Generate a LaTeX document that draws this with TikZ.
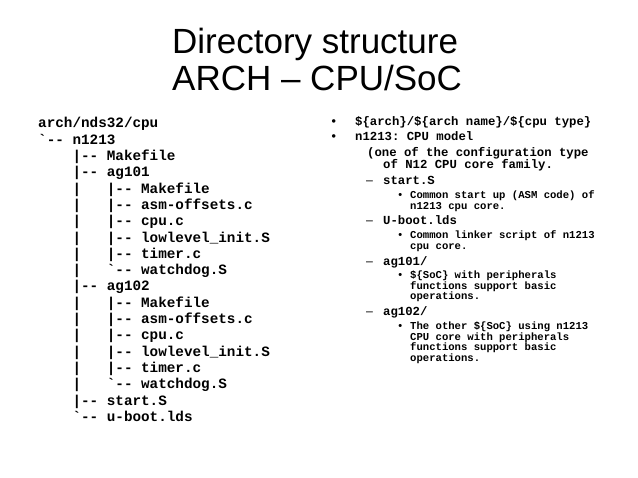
\documentclass[tikz,border=0pt]{standalone}
\usepackage{fontspec}
\setmainfont{Liberation Sans}
\setmonofont{Liberation Mono}
\begin{document}
\begin{tikzpicture}[x=1pt,y=-1pt,
  tree/.style={anchor=base west,inner sep=0pt,font=\fontsize{14.3}{16}\ttfamily\bfseries},
  mid/.style={anchor=base west,inner sep=0pt,font=\fontsize{12.3}{14}\ttfamily\bfseries},
  small/.style={anchor=base west,inner sep=0pt,font=\fontsize{10.6}{12}\ttfamily\bfseries},
  dsh/.style={anchor=base west,inner sep=0pt,font=\fontsize{12.3}{14}\selectfont},
  ttl/.style={anchor=base west,inner sep=0pt,font=\fontsize{35}{37}\selectfont}]
\useasboundingbox (0,0) rectangle (638,478);
\node[ttl] (t1) at (172,54) {Directory structure};
\node[ttl] (t2) at (172,91) {ARCH – CPU/SoC};
\foreach \i/\s in {0/{arch/nds32/cpu},1/{`-- n1213},2/{\ \ \ \ |-- Makefile},3/{\ \ \ \ |-- ag101},
 4/{\ \ \ \ |\ \ \ |-- Makefile},5/{\ \ \ \ |\ \ \ |-- asm-offsets.c},6/{\ \ \ \ |\ \ \ |-- cpu.c},
 7/{\ \ \ \ |\ \ \ |-- lowlevel\_init.S},8/{\ \ \ \ |\ \ \ |-- timer.c},9/{\ \ \ \ |\ \ \ `-- watchdog.S},
 10/{\ \ \ \ |-- ag102},11/{\ \ \ \ |\ \ \ |-- Makefile},12/{\ \ \ \ |\ \ \ |-- asm-offsets.c},13/{\ \ \ \ |\ \ \ |-- cpu.c},
 14/{\ \ \ \ |\ \ \ |-- lowlevel\_init.S},15/{\ \ \ \ |\ \ \ |-- timer.c},16/{\ \ \ \ |\ \ \ `-- watchdog.S},
 17/{\ \ \ \ |-- start.S},18/{\ \ \ \ `-- u-boot.lds}}
 \node[tree] (l\i) at (38,{128+16.3*\i}) {\s};
% right column
\node[mid] (b1) at (330,126) {•};
\node[mid] (r1) at (355,126) {\$\{arch\}/\$\{arch name\}/\$\{cpu type\}};
\node[mid] (b2) at (330,141) {•};
\node[mid] (r2) at (355,141) {n1213: CPU model};
\node[mid] (r3) at (367,157) {(one of the configuration type};
\node[mid] (r4) at (383,169) {of N12 CPU core family.};
\node[dsh] (d1) at (366,185) {–};
\node[mid] (r5) at (383,185) {start.S};
\node[small] (s1b) at (397,199) {•};
\node[small] (s1) at (410,199) {Common start up (ASM code) of};
\node[small] (s2) at (410,210) {n1213 cpu core.};
\node[dsh] (d2) at (366,225) {–};
\node[mid] (r6) at (383,225) {U-boot.lds};
\node[small] (s3b) at (397,239) {•};
\node[small] (s3) at (410,239) {Common linker script of n1213};
\node[small] (s4) at (410,250) {cpu core.};
\node[dsh] (d3) at (366,266) {–};
\node[mid] (r7) at (383,266) {ag101/};
\node[small] (s5b) at (397,279) {•};
\node[small] (s5) at (410,279) {\$\{SoC\} with peripherals};
\node[small] (s6) at (410,290) {functions support basic};
\node[small] (s7) at (410,300) {operations.};
\node[dsh] (d4) at (366,316) {–};
\node[mid] (r8) at (383,316) {ag102/};
\node[small] (s8b) at (397,330) {•};
\node[small] (s8) at (410,330) {The other \$\{SoC\} using n1213};
\node[small] (s9) at (410,341) {CPU core with peripherals};
\node[small] (s10) at (410,351) {functions support basic};
\node[small] (s11) at (410,362) {operations.};
\end{tikzpicture}
\end{document}
